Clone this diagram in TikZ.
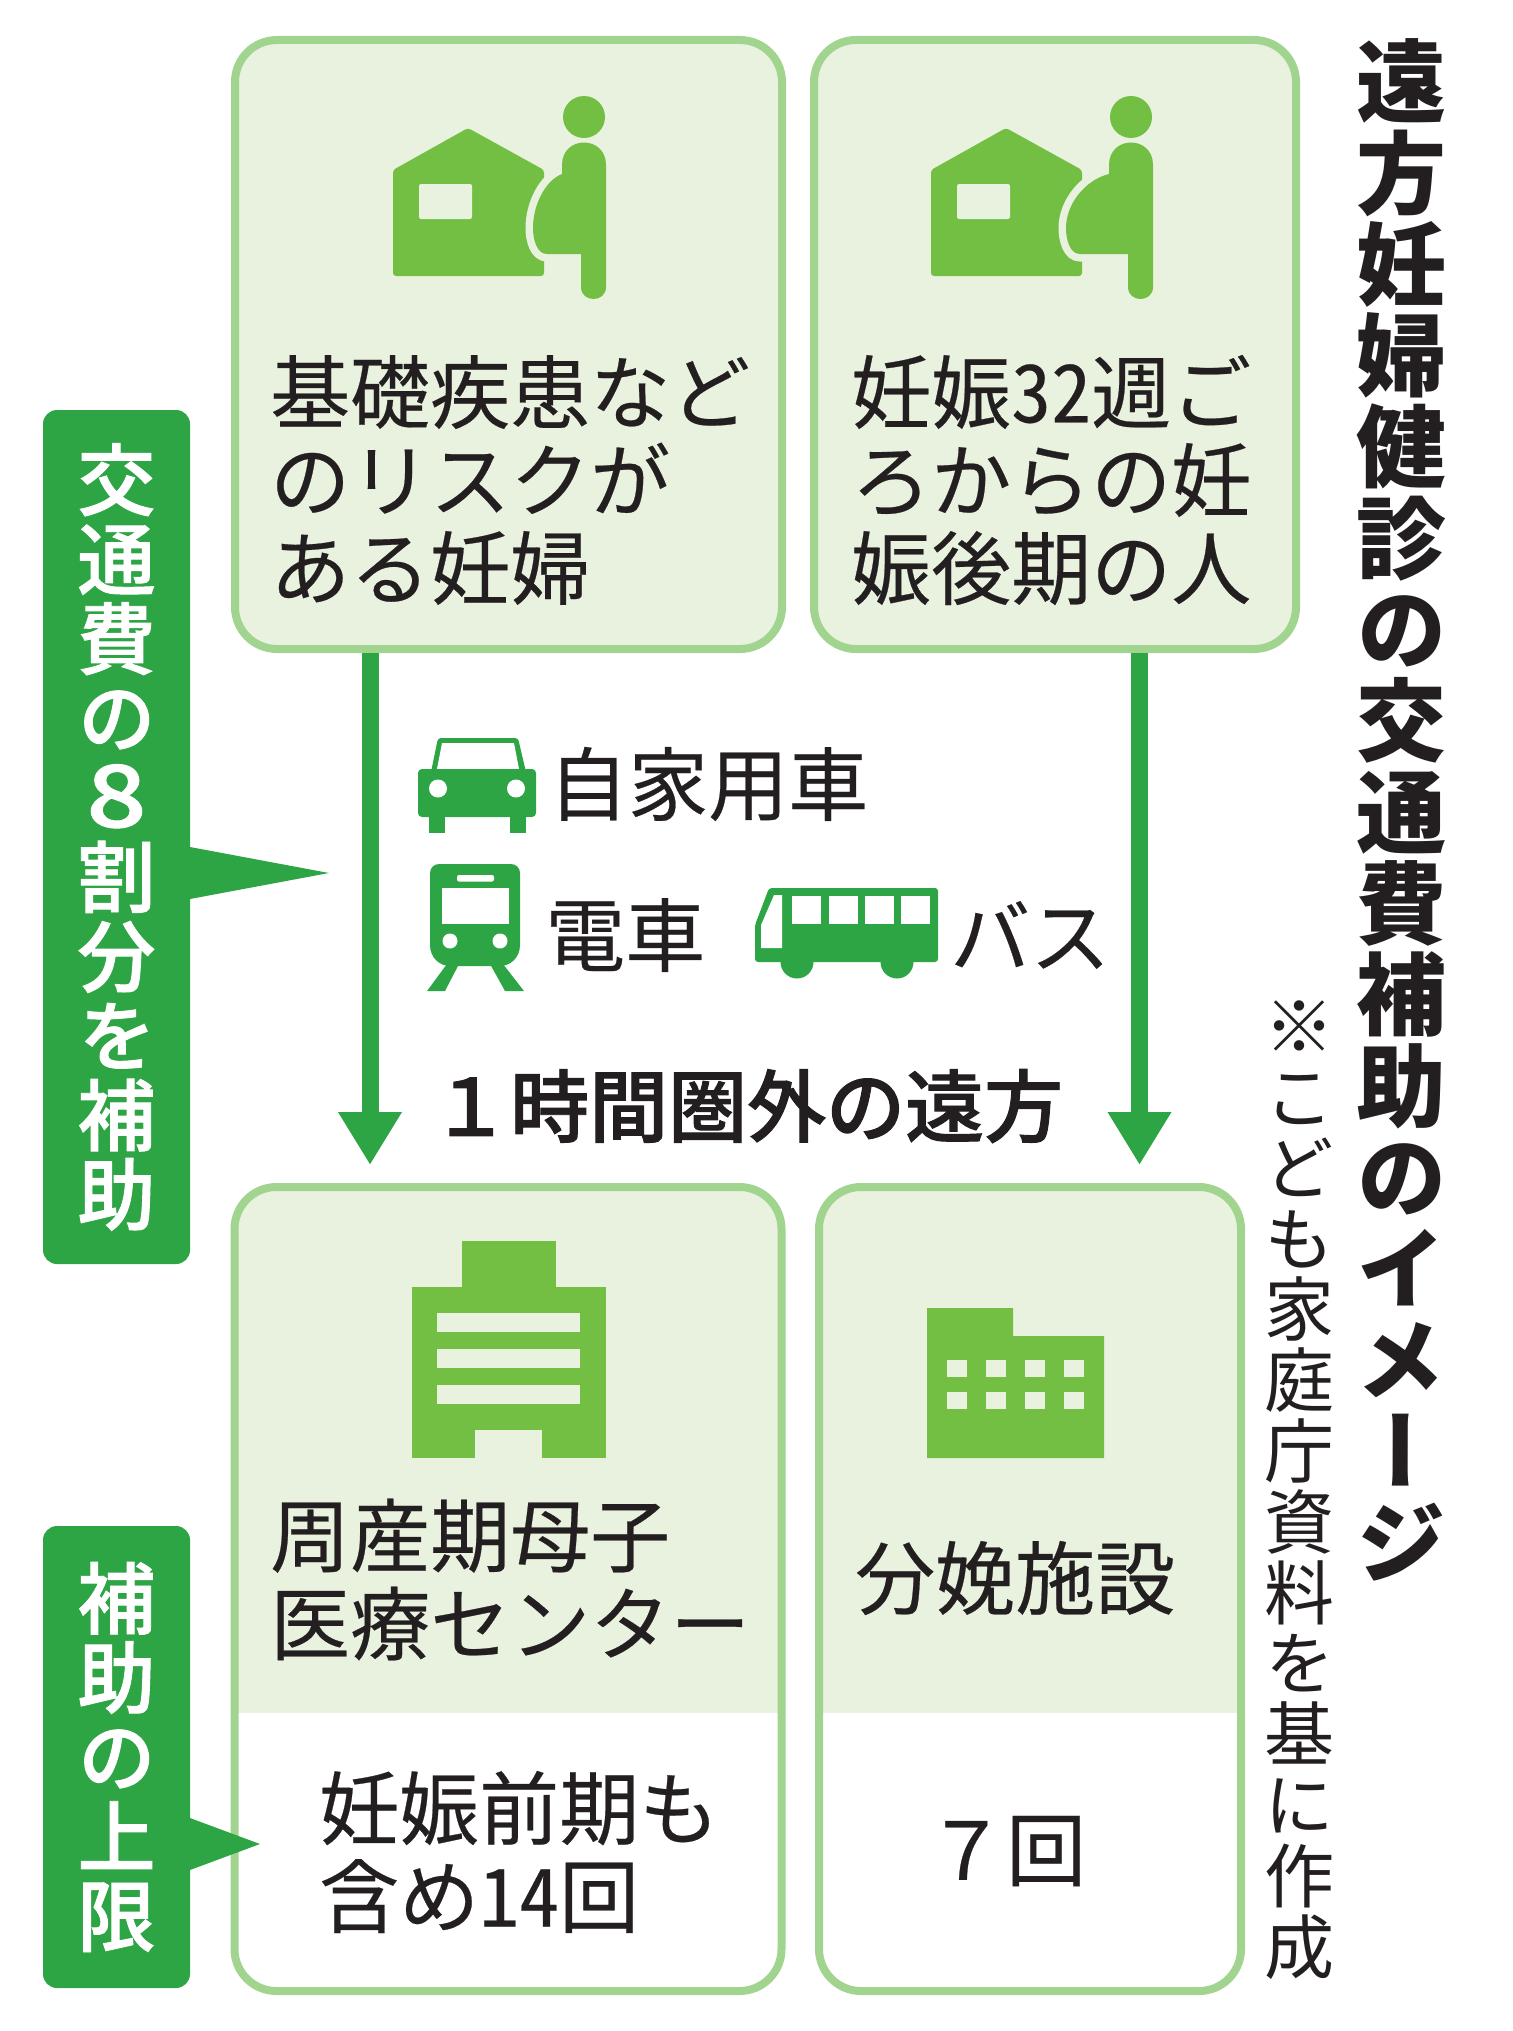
\documentclass[tikz,border=0pt]{standalone}
\usepackage{fontspec}
\setmainfont[FakeBold=0.3]{Noto Sans CJK JP}
\newfontfamily\medfont[FakeBold=1.2]{Noto Sans CJK JP Medium}
\newfontfamily\vertfont[RawFeature={+vert}]{Noto Sans CJK JP}
\newfontfamily\vertmedfont[RawFeature={+vert},FakeBold=1.2]{Noto Sans CJK JP Medium}
\usetikzlibrary{arrows.meta}
\definecolor{framegreen}{HTML}{A1D48E}
\definecolor{palegreen}{HTML}{E8F2DE}
\definecolor{icongreen}{HTML}{72BF44}
\definecolor{darkgreen}{HTML}{2EA545}
\definecolor{inkblack}{HTML}{231F20}
\tikzset{frame/.style={draw=framegreen, line width=8pt, rounded corners=42pt, inner sep=0pt, outer sep=0pt}}
\tikzset{tag/.style={fill=darkgreen, text=white, rounded corners=14pt, inner sep=0pt, outer sep=0pt, align=center, font=\vertmedfont\fontsize{78}{79.4}\selectfont}}
\tikzset{txt/.style={anchor=west, inner sep=0pt, align=left, text=inkblack, font=\fontsize{80}{88}\selectfont}}
\tikzset{thick arrow/.style={draw=darkgreen, line width=17pt, -{Triangle[length=53pt,width=60pt]}}}
\newcommand{\halfdigits}[1]{{\addfontfeature{RawFeature=+hwid}#1}}
\newcommand{\momicon}[4]{
	\begin{scope}[shift={(#1,0)}]
		\fill[icongreen, rounded corners=3pt] (393,276) -- (393,170) -- (468,128) -- (544,170) -- (544,276) -- cycle;
		\fill[palegreen, rounded corners=2pt] (419,184) rectangle (472,219);
	\end{scope}
	\path[fill=palegreen, draw=palegreen, line width=15pt] (#2+581,254) -- (#3+14,254) .. controls (#3+4,254) and (#3,240) .. (#3,228) .. controls (#3,204) and (#4,180) .. (#2+562,174) -- cycle;
	\fill[icongreen] (#2+584,117) circle [radius=21pt];
	\fill[icongreen] (#2+562,165) .. controls (#2+562,135) and (#2+606,135) .. (#2+606,165) -- (#2+606,287) .. controls (#2+606,303) and (#2+581,303) .. (#2+581,287) -- (#2+581,254) -- (#3+14,254) .. controls (#3+4,254) and (#3,240) .. (#3,228) .. controls (#3,204) and (#4,180) .. (#2+562,174) -- cycle;
}

\begin{document}
\begin{tikzpicture}[x=1pt,y=-1pt]
		\useasboundingbox (0,0) rectangle (1512,2031);
		% upper boxes
		\node[frame, fill=palegreen, minimum width=547pt, minimum height=609pt] (riskbox) at (508.5,344.5) {};
		\node[frame, fill=palegreen, minimum width=482pt, minimum height=609pt] (latebox) at (1055,344.5) {};
		% lower boxes
		\fill[palegreen, rounded corners=42pt] (235,1187) rectangle (781,1500);
		\fill[palegreen] (235,1400) rectangle (781,1713);
		\fill[palegreen, rounded corners=42pt] (819,1187) rectangle (1241,1500);
		\fill[palegreen] (819,1400) rectangle (1241,1713);
		\node[frame, minimum width=547pt, minimum height=804pt] (centerbox) at (508,1589) {};
		\node[frame, minimum width=422pt, minimum height=804pt] (birthbox) at (1030,1589) {};
		% icons
		\momicon{0}{0}{533}{546}
		\momicon{538}{547}{1066}{1085}
		\fill[icongreen] (462,1241) rectangle (556,1287);
		\fill[icongreen] (412,1287) rectangle (606,1458);
		\foreach \y in {1313,1349,1385}
			\fill[palegreen] (437,\y) rectangle (580,\y+19);
		\fill[palegreen] (475,1430) rectangle (542,1458);
		\fill[icongreen] (927,1458) -- (927,1308) -- (1013,1308) -- (1013,1336) -- (1104,1336) -- (1104,1458) -- cycle;
		\foreach \x in {947,986,1025,1064}
			\foreach \y in {1360,1392}
				\fill[palegreen] (\x,\y) rectangle (\x+20,\y+17);
		% car
		\fill[darkgreen, rounded corners=3pt] (431,772) -- (438,738) -- (518,738) -- (526,772) -- cycle;
		\fill[white] (442,743) -- (514,743) -- (519,769) -- (437,769) -- cycle;
		\fill[darkgreen, rounded corners=4pt] (418,769) rectangle (536,817);
		\fill[darkgreen] (429,812) rectangle (445,833);
		\fill[darkgreen] (510,812) rectangle (526,833);
		\fill[white] (438,788.5) circle [radius=9pt];
		\fill[white] (516,788.5) circle [radius=9pt];
		% train
		\fill[darkgreen] (439,864) -- (511,864) .. controls (516,864) and (520,868) .. (520,873) -- (520,945) .. controls (520,958) and (510,966) .. (500,966) -- (450,966) .. controls (440,966) and (430,958) .. (430,945) -- (430,873) .. controls (430,868) and (434,864) .. (439,864) -- cycle;
		\fill[white] (442,888) rectangle (509,924);
		\fill[white, rounded corners=2pt] (457,875) rectangle (494,881.5);
		\fill[white] (450,941) circle [radius=7.5pt];
		\fill[white] (500,941) circle [radius=7.5pt];
		\fill[darkgreen] (447,964) -- (459,964) -- (445,991) -- (427,991) -- cycle;
		\fill[darkgreen] (490,964) -- (503,964) -- (524,991) -- (505,991) -- cycle;
		% bus
		\fill[darkgreen, rounded corners=3pt] (769,888) -- (938,888) -- (938,962) -- (755,962) -- (755,925) -- cycle;
		\fill[darkgreen] (797,962) circle [radius=16.5pt];
		\fill[darkgreen] (897,962) circle [radius=16.5pt];
		\foreach \x in {792,829,865,901}
			\fill[white] (\x,896) rectangle (\x+28.5,924);
		\fill[white] (774,895) -- (782,895) -- (782,948) -- (761,948) -- (761,925) -- cycle;
		% arrows
		\coordinate (riskfoot) at (370,653);
		\coordinate (centerhead) at (370,1165);
		\coordinate (latefoot) at (1139.5,653);
		\coordinate (birthhead) at (1139.5,1165);
		\draw[thick arrow] (riskfoot) -- (centerhead);
		\draw[thick arrow] (latefoot) -- (birthhead);
		% tags
		\node[tag, minimum width=147pt, minimum height=854pt] (faretag) at (116.5,837) {交\\通\\費\\の\\\scalebox{1.35}[1.1]{8}\\割\\分\\を\\補\\助};
		\node[tag, minimum width=147pt, minimum height=462pt] (limittag) at (116.5,1757) {補\\助\\の\\上\\限};
		\fill[darkgreen] (190,847) -- (329,873) -- (190,899) -- cycle;
		\fill[darkgreen] (190,1818) -- (260,1844) -- (190,1870) -- cycle;
		% texts
		\node[txt] (risktext) at (270,480) {基礎疾患など\\のリスクが\\ある妊婦};
		\node[txt] (latetext) at (851,480) {妊娠\halfdigits{32}週ご\\ろからの妊\\娠後期の人};
		\node[txt] (centertext) at (270,1579.5) {周産期母子\\医療センター};
		\node[txt] (birthtext) at (855,1578) {分娩施設};
		\node[txt] (limittext) at (319,1852) {妊娠前期も\\含め\halfdigits{14}回};
		\node[txt] (counttext) at (926,1851) {７回};
		\node[txt] (cartext) at (548,784) {自家用車};
		\node[txt] (traintext) at (545,935) {電車};
		\node[txt] (bustext) at (950,935) {バス};
		\node[txt, font=\medfont\fontsize{79}{88}\selectfont] (fartext) at (431,1106) {１時間圏外の遠方};
		\node[align=center, inner sep=0pt, text=inkblack, font=\vertfont\fontsize{90}{91.3}\selectfont\bfseries] (titletext) at (1401,810) {遠\\方\\妊\\婦\\健\\診\\の\\交\\通\\費\\補\\助\\の\\イ\\メ\\ー\\ジ};
		\node[align=center, inner sep=0pt, text=inkblack, font=\vertfont\fontsize{70}{70.8}\selectfont] (sourcetext) at (1299,1490) {※\\こ\\ど\\も\\家\\庭\\庁\\資\\料\\を\\基\\に\\作\\成};
\end{tikzpicture}
\end{document}
